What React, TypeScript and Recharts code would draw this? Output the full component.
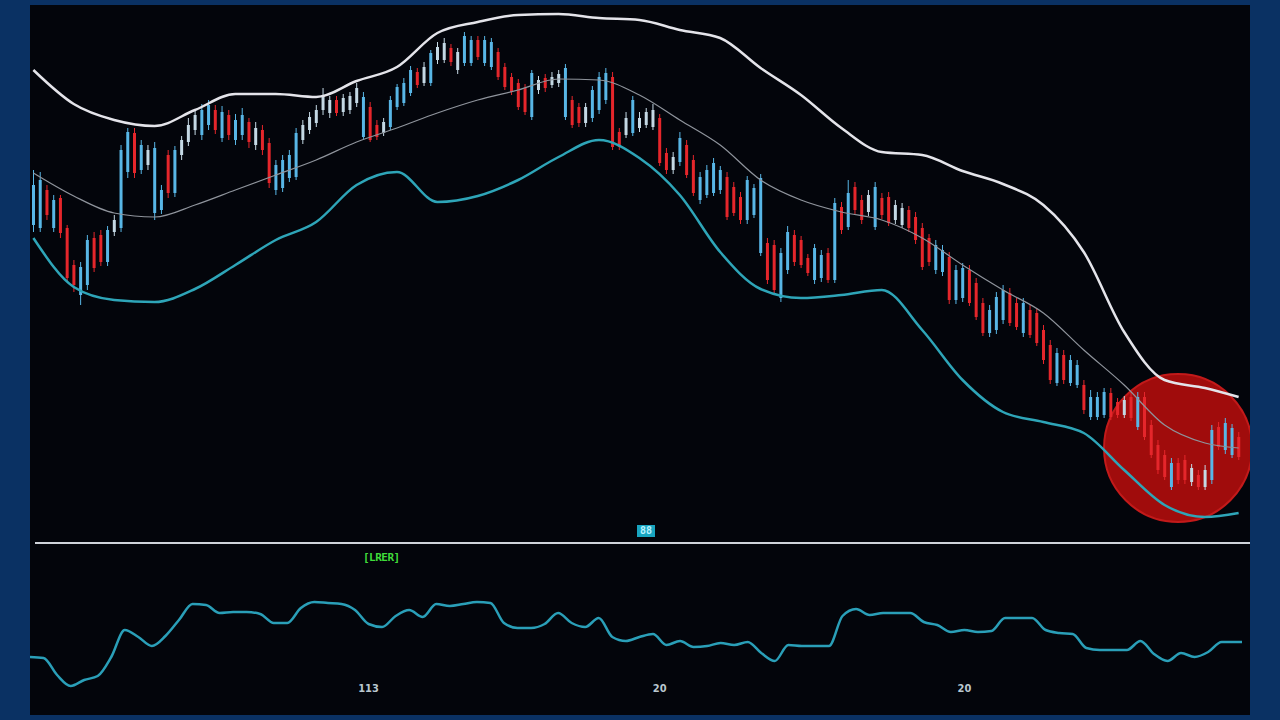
import { ComposedChart, Bar, Line, XAxis, YAxis, ReferenceDot } from 'recharts'

// candles (price units = chart scale 0..106)
const opens = [
  62, 61.4, 69, 61.4, 67.4, 61.4, 54, 48, 50, 59.4,
  60, 54.6, 60.6, 61.4, 72.6, 80.4, 73, 74, 64.4, 65,
  76, 68.4, 76, 78.6, 81, 80, 82, 85, 79.4, 84,
  79, 80, 82.6, 78, 81, 78.4, 69, 69.4, 71.4, 71.6,
  79, 81, 82.4, 85, 84.4, 87, 84.6, 85, 86.4, 79.6,
  85.6, 82, 80.4, 81.6, 85.6, 86.4, 88.4, 92.6, 90.4, 90.4,
  95, 95, 97.4, 93, 94.4, 94.4, 99, 94.4, 93.6, 96.6,
  93.6, 91.6, 90.4, 89.4, 83.6, 89, 91.4, 90, 90.4, 83.6,
  87, 85.6, 82.4, 83.4, 85, 87, 91.6, 80.6, 80, 80.4,
  81.4, 82, 81.6, 83.4, 76.4, 73, 74.6, 78, 75, 67,
  68, 68.4, 69, 71.6, 69.6, 67.6, 63, 64, 56.4, 58.4,
  58, 47.4, 53, 60, 59, 55.4, 51, 51.4, 56.4, 51,
  65.6, 61.6, 69.6, 67, 64.6, 61.6, 67.4, 67.6, 63, 62,
  65, 63.6, 61.4, 59.4, 53, 52.6, 55.6, 47, 47.4, 53,
  50.4, 46.4, 40.4, 41, 43, 48.4, 46.4, 40.4, 45, 44.4,
  41, 38, 30.4, 36, 30.4, 30, 30, 23.6, 23.6, 24,
  28.4, 26.6, 24, 27.6, 21.6, 27.6, 22, 18, 16, 9.6,
  14.4, 15, 10.6, 12, 9.6, 11, 21.6, 17, 16, 19.6,
]
const closes = [
  70, 71, 64, 67, 60.4, 51.4, 50, 53.6, 59, 53.4,
  54.6, 61, 63, 77, 80.6, 72.4, 78, 77, 77.4, 69,
  68.4, 77, 79, 82, 84, 85, 86, 81, 84.6, 80,
  83, 84, 78.6, 81.4, 77, 70.4, 74, 75, 76, 80.4,
  82, 83.6, 85, 88, 87, 84.4, 87.4, 87.8, 89.4, 87.6,
  79, 79.6, 82.6, 87, 89.6, 90.4, 93, 90, 93.6, 96.4,
  97.6, 98.4, 94.6, 96.6, 99.8, 99, 95.6, 99, 98.6, 91.6,
  89.6, 88.6, 85.6, 84.6, 92.4, 91, 89.4, 91.6, 92.2, 93.4,
  82, 82.4, 85.6, 89, 91.6, 92.4, 77.6, 77.6, 83.4, 87,
  83.4, 84.6, 85, 74.4, 73, 75.6, 79.4, 72, 68.4, 71.6,
  73, 74.4, 73, 63.6, 64.4, 63, 71, 69.4, 71.4, 51,
  49, 56.4, 60.6, 54.6, 54, 52.4, 57.4, 56, 51, 66.4,
  61, 68.4, 65, 63, 68, 69.6, 64, 62.4, 66, 65.4,
  61.4, 59, 53.6, 54.6, 58, 57, 47, 53, 53.4, 46.4,
  43.6, 40.4, 45, 47.6, 49, 42.4, 41.6, 46.4, 40, 38.4,
  35, 31, 36.4, 31, 35, 34, 25, 27.6, 27.6, 28.6,
  23.6, 24, 27, 23.4, 27.6, 19.6, 16, 13, 11.6, 14.4,
  11, 11, 13.4, 9.6, 13, 21, 17.6, 22.4, 21.4, 15.6,
]
const highs = [
  73, 72.6, 70, 68, 68, 62, 55, 54.6, 60, 60.6,
  61, 61.8, 64, 78, 81.4, 81.4, 79, 78, 78.6, 70,
  77, 77.8, 79.8, 83.4, 85, 86.2, 87, 86, 85.8, 85,
  84.2, 85.4, 83.4, 82.6, 82, 79.4, 75, 76, 77, 81.4,
  83, 84.6, 86, 89.4, 87.8, 87.8, 88.2, 88.6, 90.4, 88.6,
  86.6, 83, 83.4, 87.8, 90.2, 91.4, 93.8, 93.4, 94.6, 97,
  98.6, 99.4, 98.2, 97.4, 100.6, 99.8, 99.8, 99.8, 99.4, 97.4,
  94.4, 92.4, 91.2, 90.2, 93, 91.8, 92.2, 92.6, 93, 94.2,
  87.8, 86.4, 86.4, 89.8, 92.6, 93.4, 92.6, 81.4, 84.6, 87.8,
  84.6, 85.4, 86.2, 84.2, 77.4, 76.6, 80.6, 79, 76, 72.6,
  74, 75.4, 73.8, 72.6, 70.6, 68.6, 71.8, 70.2, 72.2, 59.4,
  59, 57.4, 61.8, 61, 59.8, 56.2, 58.2, 57, 57.4, 67.4,
  66.6, 71, 70.6, 68, 69, 70.6, 68.4, 68.6, 67, 66.4,
  65.8, 64.6, 62.4, 60.2, 59, 58, 56.6, 54, 54.4, 54,
  51.4, 47.4, 46, 48.6, 50, 49.4, 47.4, 47.4, 46, 45.4,
  42, 39, 37.4, 37, 36, 35, 31, 29, 28.6, 29.4,
  29.4, 27.4, 27.8, 28.6, 28.6, 28.6, 23, 19, 17, 15.4,
  15.4, 16, 14.2, 13, 14, 22, 22.6, 23.4, 22.2, 20.6,
]
const lows = [
  60.6, 60.6, 63, 60.6, 59.4, 50.6, 48.6, 46, 49, 52.6,
  53.8, 53.8, 59.8, 60.6, 71.4, 71.4, 72.2, 73, 63, 64.2,
  67.4, 67.6, 75, 77.8, 80, 79, 81, 80.2, 78.6, 79,
  78, 79, 77.4, 77, 76, 69.4, 68, 68.6, 70.6, 71,
  78.2, 80.2, 81.6, 84, 83.4, 83.8, 83.8, 84.2, 85.6, 79,
  78.6, 79, 79.8, 81, 85, 85.8, 87.8, 89.4, 89.8, 89.8,
  94.2, 94.4, 93.8, 92.2, 93.8, 93.8, 95, 93.8, 93, 91,
  89, 88, 85, 84, 83, 88.2, 88.6, 89.4, 89.6, 83,
  81.4, 81.6, 81.6, 82.6, 84.2, 86.2, 77, 77, 79.4, 79.8,
  80.6, 81.4, 81, 73.8, 72.2, 72.2, 73.8, 71.4, 67.8, 66.2,
  67.4, 67.8, 68.2, 63, 63.8, 62.2, 62.2, 63.4, 55.8, 50.2,
  48.2, 46.6, 52.2, 53.8, 53.4, 51.8, 50.2, 50.6, 50.4, 50.4,
  60.2, 61, 64.2, 62.2, 63.8, 61, 63.2, 61.8, 62.2, 61.4,
  60.6, 58.2, 53, 53.8, 52.2, 51.8, 46.2, 46.2, 46.6, 45.8,
  43, 39.8, 39.6, 40.2, 42.2, 41.8, 41, 39.6, 39.4, 37.8,
  34.2, 30.2, 29.8, 30.2, 29.8, 29.4, 24.2, 23, 23, 23.4,
  23, 23.4, 23.4, 22.8, 21, 19, 15.4, 12.2, 11, 9,
  10.2, 10.2, 9.8, 9, 9, 10.2, 17, 16.2, 15.4, 15,
]

// Bollinger bands, sampled every 6th candle (plus the last one)
const bandIdx = [0, 6, 12, 18, 24, 30, 36, 42, 48, 54, 60, 66, 72, 78, 84, 90, 96, 102, 108, 114, 120, 126, 132, 138, 144, 150, 156, 162, 168, 174, 179]
const upperBand = [93, 86.2, 83, 81.8, 85, 88.2, 88.2, 87.6, 90.8, 93.6, 100.4, 102.6, 104, 104.2, 103.4, 103, 101, 99.4, 93.4, 88, 81.4, 76.6, 76, 72.8, 70.2, 66, 56.6, 40.6, 31, 29.4, 27.6]
const middleBand = [72.4, 67.8, 64.4, 63.6, 66, 69, 72, 75, 78.6, 81.4, 84.4, 87, 89, 91.2, 91, 88, 83, 78, 71, 67, 64.6, 63, 59.4, 54, 49, 44.4, 37, 30, 22, 18.4, 17.4]
const lowerBand = [59.4, 49.6, 47, 46.6, 49.2, 54, 59, 62.6, 70, 72.6, 66.6, 67.8, 71, 75.6, 79, 75.4, 68, 56.6, 49.2, 47.4, 48, 49, 41, 31, 24.6, 22.6, 20.4, 13, 6, 3.6, 4.4]

// lower panel oscillator, every 2nd candle (plus the last one)
const oscIdx = [...Array.from({ length: 90 }, (_, k) => k * 2), 179]
const oscValues = [
  43, 42, 25, 14, 20, 24, 43, 70, 63, 54,
  64, 80, 96, 95, 87, 88, 88, 86, 77, 77,
  92, 98, 97, 96, 90, 76, 73, 84, 90, 83,
  96, 94, 96, 98, 97, 77, 72, 72, 76, 87,
  77, 73, 82, 63, 59, 63, 66, 55, 59, 53,
  54, 57, 55, 58, 47, 39, 55, 54, 54, 54,
  84, 91, 85, 87, 87, 87, 78, 75, 68, 70,
  68, 69, 82, 82, 82, 70, 67, 66, 52, 50,
  50, 50, 59, 46, 39, 47, 43, 48, 58, 58,
  58,
]

const tickIdx = [50, 93, 138]
const tickLabels = ['113', '20', '20']

const UP = '#58b6e6'
const UP_PALE = '#c4d8e4'
const DOWN = '#e5262b'

const upperAt = new Map(bandIdx.map((k, j) => [k, upperBand[j]]))
const middleAt = new Map(bandIdx.map((k, j) => [k, middleBand[j]]))
const lowerAt = new Map(bandIdx.map((k, j) => [k, lowerBand[j]]))
const oscAt = new Map(oscIdx.map((k, j) => [k, oscValues[j]]))

const rows = opens.map((o, i) => ({
  idx: i,
  open: o,
  close: closes[i],
  high: highs[i],
  low: lows[i],
  upper: upperAt.get(i) ?? null,
  middle: middleAt.get(i) ?? null,
  lower: lowerAt.get(i) ?? null,
}))

const oscRows = opens.map((_, i) => ({ idx: i, osc: oscAt.get(i) ?? null }))

function Candle(props: any) {
  const { x, y, width, height, payload } = props
  const { open, close, high, low } = payload
  const up = close >= open
  const ratio = height / (high - low || 1)
  const yO = y + (high - open) * ratio
  const yC = y + (high - close) * ratio
  const cx = x + width / 2
  const color = up ? (Math.abs(close - open) < 4 ? UP_PALE : UP) : DOWN
  return (
    <g>
      <line x1={cx} x2={cx} y1={y} y2={y + height} stroke={color} strokeWidth={1} />
      <rect x={cx - 1.5} y={Math.min(yO, yC)} width={3} height={Math.max(1, Math.abs(yO - yC))} fill={color} />
    </g>
  )
}

function OscTick(props: any) {
  const { x, y, payload } = props
  const label = tickLabels[tickIdx.indexOf(payload.value)]
  return (
    <text x={x} y={y} dy={-16} textAnchor="middle" fill="#b9c7cf" fontSize={11} fontWeight={700}
      fontFamily="'Liberation Sans Narrow', 'DejaVu Sans Condensed', sans-serif">
      {label}
    </text>
  )
}

export default function App() {
  return (
    <div style={{ position: 'fixed', left: 0, top: 0, width: 1280, height: 720, background: '#0a3163' }}>
      <div style={{
        position: 'absolute', left: 30, top: 5, width: 1220, height: 710,
        background: '#03050b', overflow: 'hidden',
      }}>
        <div style={{ position: 'absolute', left: 0, top: 0 }}>
          <ComposedChart width={1220} height={530} data={rows} margin={{ top: 0, right: 8, left: 0, bottom: 0 }}>
            <XAxis dataKey="idx" hide />
            <YAxis hide domain={[0, 106]} />
            <ReferenceDot x={170} y={17.4} r={74} fill="#a00c0c" stroke="#c21a1a" strokeWidth={2}
              ifOverflow="visible" zIndex={-10} />
            <Bar dataKey={(d: any) => [d.low, d.high]} barSize={3} shape={<Candle />} isAnimationActive={false} />
            <Line type="monotone" dataKey="upper" stroke="#e4e4ea" strokeWidth={2.5} dot={false}
              connectNulls isAnimationActive={false} />
            <Line type="monotone" dataKey="middle" stroke="#8f949c" strokeWidth={1.2} dot={false}
              connectNulls isAnimationActive={false} />
            <Line type="monotone" dataKey="lower" stroke="#2ea5b8" strokeWidth={2.5} dot={false}
              connectNulls isAnimationActive={false} />
          </ComposedChart>
        </div>

        <div style={{
          position: 'absolute', left: 607, top: 520, padding: '0 3px', height: 12, lineHeight: '12px',
          background: '#18a5c0', color: '#b8f2ff', fontSize: 10, fontWeight: 700,
          fontFamily: "'DejaVu Sans Mono', monospace",
        }}>88</div>

        <div style={{ position: 'absolute', left: 5, top: 537, width: 1215, height: 2, background: '#cfd3da' }} />

        <div style={{
          position: 'absolute', left: 333, top: 546, color: '#3fdc3a', fontSize: 11, fontWeight: 700,
          fontFamily: "'DejaVu Sans Mono', monospace", letterSpacing: -0.5,
        }}>[LRER]</div>

        <div style={{ position: 'absolute', left: 0, top: 575 }}>
          <ComposedChart width={1220} height={140} data={oscRows} margin={{ top: 0, right: 8, left: 0, bottom: 0 }}>
            <XAxis dataKey="idx" height={20} ticks={tickIdx} interval={0} axisLine={false} tickLine={false}
              tick={<OscTick />} />
            <YAxis hide domain={[0, 120]} />
            <Line type="monotone" dataKey="osc" stroke="#2a9fb8" strokeWidth={2.5} dot={false}
              connectNulls isAnimationActive={false} />
          </ComposedChart>
        </div>
      </div>
    </div>
  )
}
